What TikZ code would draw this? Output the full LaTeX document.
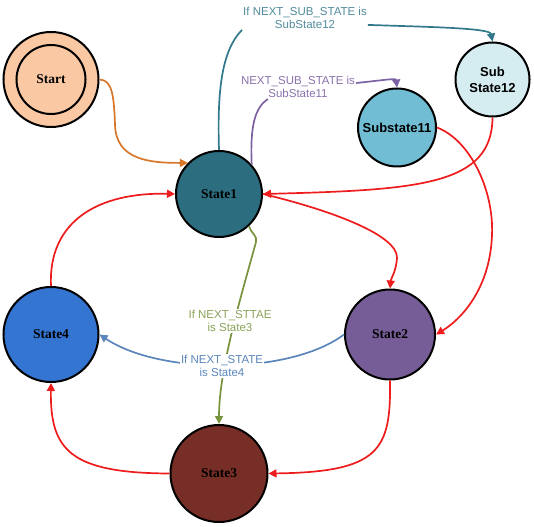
\documentclass[tikz,border=0pt]{standalone}
\usepackage{fontspec}
\setmainfont{Liberation Serif}
\setsansfont{Liberation Sans}
\usetikzlibrary{arrows.meta, positioning, calc}
\definecolor{startFill}{HTML}{FAC9A4}
\definecolor{oneFill}{HTML}{2C6E7F}
\definecolor{twoFill}{HTML}{775D97}
\definecolor{threeFill}{HTML}{762E26}
\definecolor{fourFill}{HTML}{3375D1}
\definecolor{subElevenFill}{HTML}{70BDD4}
\definecolor{subTwelveFill}{HTML}{D5ECF1}
\definecolor{fsmRed}{HTML}{EE1C1C}
\definecolor{fsmOrange}{HTML}{D8772A}
\definecolor{fsmTeal}{HTML}{31788A}
\definecolor{fsmPurple}{HTML}{7D62A3}
\definecolor{fsmOlive}{HTML}{77933C}
\definecolor{fsmBlue}{HTML}{5A86BB}

\begin{document}
\begin{tikzpicture}[x=1pt, y=-1pt,
  state/.style={circle, draw=black, line width=2pt, inner sep=0pt,
                font=\fontsize{13.5}{15}\selectfont\bfseries},
  substate/.style={state, align=center,
                   font=\sffamily\fontsize{13}{16}\selectfont\bfseries},
  link/.style={line width=1.7pt},
  edge/.style={link, -{Triangle[length=8pt,width=8pt]}},
  cond/.style={font=\sffamily\fontsize{11.5}{13}\selectfont, align=center,
               inner sep=1pt, fill=white}
]
  \useasboundingbox (0,0) rectangle (534,526);
  \node[state, fill=startFill, minimum size=95pt] (start) at (51,79.5) {};
  \node[state, fill=startFill, minimum size=69pt] (startIn) at (start.center) {Start};
  \node[state, fill=oneFill, minimum size=86pt] (state1) at (219,194) {State1};
  \node[substate, fill=subElevenFill, minimum size=78pt] (sub11) at (397,127.5) {Substate11};
  \node[substate, fill=subTwelveFill, minimum size=74pt] (sub12) at (492.5,79.5) {Sub\\State12};
  \node[state, fill=fourFill, minimum size=95pt] (state4) at (51,334.5) {State4};
  \node[state, fill=twoFill, minimum size=90pt] (state2) at (390,334.5) {State2};
  \node[state, fill=threeFill, minimum size=97pt] (state3) at (219,473.5) {State3};

  \draw[edge, fsmOlive] (state1.-47) .. controls (250,232) and (258,236) .. (256,242)
    .. controls (240,300) and (219,370) .. (state3.north);
  \draw[edge, fsmBlue] (state2.west) .. controls (290,375) and (160,375) .. (state4.east);

  \node[cond, text=fsmTeal!85] (lab12) at (305,18) {If NEXT\_SUB\_STATE is\\SubState12};
  \node[cond, text=fsmPurple!90] (lab11) at (298,87) {NEXT\_SUB\_STATE is\\SubState11};
  \node[cond, text=fsmOlive!85] (lab3) at (230,321) {If NEXT\_STTAE\\is State3};
  \node[cond, text=fsmBlue] (lab4) at (222,366) {If NEXT\_STATE\\is State4};

  \draw[edge, fsmOrange] (start.east) .. controls (112,80) and (114,95) .. (115,125)
    .. controls (116,160) and (150,163) .. (state1.135);
  \draw[link, fsmTeal] (state1.north) .. controls (217,90) and (222,50) .. (lab12.south west);
  \draw[edge, fsmTeal] ([yshift=5pt]lab12.south east) .. controls (430,27) and (490,28) .. (sub12.north);
  \draw[link, fsmPurple] (state1.42) .. controls (250,125) and (255,108) .. ([xshift=28pt]lab11.south west);
  \draw[edge, fsmPurple] ([yshift=4pt]lab11.east) .. controls (385,80) and (396,78) .. (sub11.north);
  \draw[edge, fsmRed] (sub12.south) .. controls (492,185) and (420,190) .. (state1.east);
  \draw[edge, fsmRed] (sub11.east) .. controls (470,140) and (494,190) .. (492,235)
    .. controls (490,290) and (460,320) .. (state2.east);
  \draw[edge, fsmRed] (state1.east) .. controls (330,210) and (398,235) .. (397,258)
    .. controls (396,272) and (391,278) .. (state2.north);
  \draw[edge, fsmRed] (state2.south) .. controls (391,450) and (380,472) .. (state3.east);
  \draw[edge, fsmRed] (state3.west) .. controls (70,473) and (50,450) .. (state4.south);
  \draw[edge, fsmRed] (state4.north) .. controls (48,220) and (100,192) .. (state1.west);
\end{tikzpicture}
\end{document}
